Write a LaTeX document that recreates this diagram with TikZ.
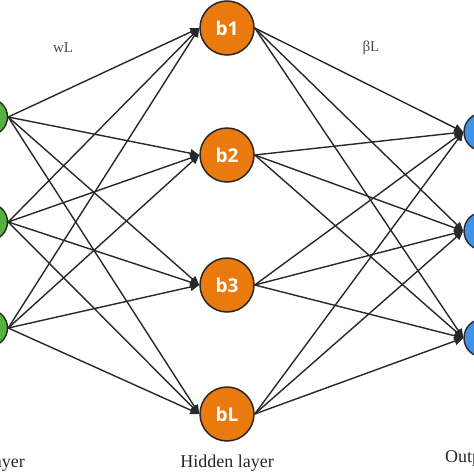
\documentclass[tikz,border=0pt]{standalone}
\usepackage{fontspec}
\setmainfont{Liberation Serif}
\newfontfamily\nodefont{Open Sans}
\usetikzlibrary{arrows.meta}
\definecolor{hidorange}{RGB}{234,121,14}
\definecolor{ingreen}{RGB}{86,178,64}
\definecolor{outblue}{RGB}{66,146,232}
\definecolor{edgegray}{RGB}{40,40,40}
\begin{document}
\begin{tikzpicture}[x=1pt,y=-1pt,
  hid/.style={circle,draw=edgegray,line width=1.5pt,fill=hidorange,minimum size=54pt,inner sep=0pt,
    font=\nodefont\bfseries\fontsize{19}{19}\selectfont,text=white},
  inp/.style={circle,draw=edgegray,line width=1.4pt,fill=ingreen,minimum size=37pt,inner sep=0pt},
  outp/.style={circle,draw=edgegray,line width=1.4pt,fill=outblue,minimum size=38pt,inner sep=0pt},
  conn/.style={draw=edgegray,line width=1.4pt,-{Triangle[length=9pt,width=8pt]}},
  lbl/.style={font=\fontsize{18}{18}\selectfont,text=black!85,inner sep=0pt},
  wlbl/.style={font=\fontsize{15}{15}\selectfont,text=black!70,inner sep=0pt}]
\useasboundingbox (0,0) rectangle (474,474);
\node[inp] (i1) at (-11,117) {};
\node[inp] (i2) at (-11,222) {};
\node[inp] (i3) at (-11,328) {};
\node[hid] (h1) at (227,28) {b1};
\node[hid] (h2) at (227,155) {b2};
\node[hid] (h3) at (227,285) {b3};
\node[hid] (h4) at (227,414) {bL};
\node[outp] (o1) at (483,132) {};
\node[outp] (o2) at (483,231) {};
\node[outp] (o3) at (483,338) {};
\foreach \i in {1,2,3}{
  \foreach \h in {1,2,3,4}{
    \draw[conn] (i\i.east) -- (h\h.west);
  }
}
\foreach \h in {1,2,3,4}{
  \foreach \o in {1,2,3}{
    \draw[conn] (h\h.east) -- (o\o.west);
  }
}
\node[wlbl] (wl) at (63,48) {wL};
\node[wlbl] (bl) at (371,48) {βL};
\node[lbl,anchor=base] (hl) at (227,467) {Hidden layer};
\node[lbl,anchor=base east] (il) at (25,467) {Input layer};
\node[lbl,anchor=base west] (ol) at (445,462) {Output layer};
\end{tikzpicture}
\end{document}
